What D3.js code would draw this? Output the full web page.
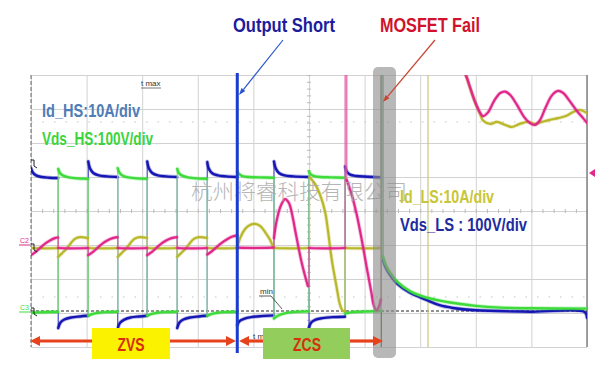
<!DOCTYPE html>
<html><head><meta charset="utf-8">
<script src="https://cdn.jsdelivr.net/npm/d3@7"></script>
<style>body{margin:0;background:#fff;} svg{display:block;}</style>
</head><body>
<script>
// ---------- DATA (time in 1/10 division, 0..100 across screen) ----------
const switchTimes = [0, 4.9, 10.3, 15.6, 20.9, 26.3, 31.7, 37.1, 43.7, 50.0, 56.5, 63.0];
const failTime = 63.0;
const cursorTime = 71.4;

// Vds_HS (green trace), volts, 100 V/div
const vdsHsSegments = [
  [[0,-6],[1.5,-4],[3.5,-3],[4.85,-3]],
  [[4.9,418],[5.2,406],[5.8,398],[6.8,393],[8.3,390],[10.25,389]],
  [[10.3,-14],[11,-9],[12.2,-5],[13.8,-3],[15.55,-2]],
  [[15.6,420],[15.9,407],[16.5,398],[17.5,393],[19,390],[20.85,389]],
  [[20.9,-14],[21.6,-9],[22.8,-5],[24.4,-3],[26.25,-2]],
  [[26.3,418],[26.6,406],[27.2,398],[28.2,393],[29.7,390],[31.65,389]],
  [[31.7,-14],[32.4,-9],[33.6,-5],[35.2,-3],[37.05,-2]],
  [[37.1,410],[37.4,403],[38,397],[39.2,394],[41,393],[43.65,392]],
  [[43.7,-22],[44.4,-14],[45.6,-7],[47.2,-3],[49.95,-1]],
  [[50.0,410],[50.3,402],[50.9,397],[52,394],[54,393],[56.45,392]],
  [[56.5,-8],[57.5,-4],[59.5,-2],[62.95,0]],
  [[63.0,720],[63.1,720]],
  [[63.3,160],[63.8,135],[64.6,112],[66,84],[68.2,58],[71,40],[75.4,25],[80,15],[84.4,10],[90,8],[100,7]]
];

// Vds_LS (blue trace), volts, 100 V/div
const vdsLsSegments = [
  [[0,420],[0.3,408],[0.9,399],[1.9,394],[3.3,392],[4.85,391]],
  [[4.9,-50],[5.3,-34],[6,-25],[7.2,-19],[8.8,-16],[10.25,-14]],
  [[10.3,440],[10.6,420],[11.2,406],[12.2,399],[13.7,396],[15.55,394]],
  [[15.6,-52],[16,-35],[16.7,-26],[17.9,-19],[19.5,-16],[20.85,-14]],
  [[20.9,440],[21.2,420],[21.8,406],[22.8,399],[24.3,396],[26.25,394]],
  [[26.3,-50],[26.7,-34],[27.4,-25],[28.6,-19],[30.2,-16],[31.65,-14]],
  [[31.7,438],[32,418],[32.6,405],[33.6,399],[35.1,396],[37.05,394]],
  [[37.1,-42],[37.5,-30],[38.3,-23],[39.6,-18],[41.5,-15],[43.65,-13]],
  [[43.7,440],[44,420],[44.6,406],[45.6,399],[47.2,396],[49.95,394]],
  [[50,-48],[50.4,-34],[51.1,-26],[52.4,-21],[54.3,-18],[56.45,-17]],
  [[56.5,425],[56.8,410],[57.4,401],[58.5,397],[60.5,395],[62.95,393]],
  [[63.0,720],[63.1,720]],
  [[63.3,150],[63.8,128],[64.6,106],[66,78],[68,55],[71.2,32],[73.5,17],[75.9,9],[80,2],[90,-2],[99.6,-3],[100,-20]]
];

// Id_HS (magenta trace), amps, 10 A/div
const idHsSegments = [
  [[0,-2.4],[0.8,-1.5],[1.7,-0.2],[2.6,1.1],[3.5,2.0],[4.3,2.6],[4.85,2.8]],
  [[4.9,-0.3],[7,-0.4],[10.25,-0.3]],
  [[10.3,-2.4],[11.1,-1.5],[12,-0.2],[12.9,1.1],[13.8,2.0],[14.7,2.6],[15.55,2.9]],
  [[15.6,-0.3],[18,-0.4],[20.85,-0.3]],
  [[20.9,-2.4],[21.7,-1.5],[22.6,-0.2],[23.5,1.1],[24.4,2.0],[25.3,2.6],[26.25,2.9]],
  [[26.3,-0.3],[29,-0.4],[31.65,-0.3]],
  [[31.7,-2.2],[32.5,-1.3],[33.4,0],[34.3,1.2],[35.2,2.2],[36.1,3.0],[37.05,3.4]],
  [[37.1,-0.2],[40,-0.3],[43.65,-0.2]],
  [[43.7,2.6],[44.2,7.9],[45.0,12.4],[45.7,14.1],[46.4,12.9],[47.1,8.5],[47.5,5.0],[48.7,-4.7],[49.8,-11.5]],
  [[50,-0.3],[53,-0.4],[56.45,-0.3]],
  [[56.5,60],[56.55,60]],
  [[56.8,19.7],[57.7,15.3],[58.6,9.4],[59.5,2],[60.4,-6.2],[61.2,-13.2],[61.7,-17.4],[62.2,-18.6],[62.6,-17.5],[62.9,-15.5]],
  [[63.0,60],[70,62],[76,58],[78.2,50.6],[79,46.8],[79.9,42.6],[80.8,39.4],[81.3,38.5],[82.2,39.6],[83.3,43.0],[84.4,45.3],[85.3,45.7],[86.2,44.7],[87.4,41.8],[88.7,38.2],[89.7,36.5],[90.6,35.9],[91.5,37.2],[92.6,41.2],[93.7,44.6],[94.8,45.9],[95.7,45.3],[96.9,42.9],[98.2,40],[99.3,37.9],[100,36.5]]
];

// Id_LS (olive trace), amps, 10 A/div
const idLsSegments = [
  [[0,-0.3],[2.5,-0.4],[4.85,-0.3]],
  [[4.9,-2.9],[5.6,-1.8],[6.5,-0.3],[7.2,1.2],[7.9,2.4],[8.8,2.9],[10.25,2.6]],
  [[10.3,-0.3],[13,-0.4],[15.55,-0.3]],
  [[15.6,-2.9],[16.3,-1.8],[17.2,-0.3],[17.9,1.2],[18.6,2.4],[19.5,2.9],[20.85,2.7]],
  [[20.9,-0.3],[23.5,-0.4],[26.25,-0.3]],
  [[26.3,-2.9],[27,-1.8],[27.9,-0.3],[28.6,1.2],[29.3,2.4],[30.2,2.9],[31.65,2.7]],
  [[31.7,-0.3],[34.5,-0.4],[37.05,-0.3]],
  [[37.1,-0.3],[37.6,2.6],[38.5,5.3],[39.4,6.5],[40.3,6.8],[41.2,6.2],[42.1,4.4],[43.0,2.1],[43.5,0.2],[43.65,-0.2]],
  [[43.7,-0.3],[47,-0.4],[49.95,-0.3]],
  [[50.1,20.5],[50.6,19.6],[51.1,18.5],[52.0,15.3],[52.9,10.3],[53.4,5.0],[54.1,-3.8],[54.9,-11.2],[55.6,-17.1],[56.1,-18.8],[56.45,-18.8]],
  [[56.5,-0.3],[60,-0.4],[62.95,-0.3]],
  [[63.0,60],[70,62],[76,58],[78.2,50.6],[79,46.6],[79.9,42.4],[80.8,39],[81.3,37.2],[82.6,36.2],[83.8,36.8],[85.3,35.9],[86.5,35.3],[87.9,36.2],[89.4,36.8],[90.6,36.2],[91.9,36.8],[93.3,37.4],[94.8,37.9],[96.2,38.5],[97.5,39.7],[98.7,40.3],[100,39.4]]
];

const labels = {
  outputShort: "Output Short",
  mosfetFail: "MOSFET Fail",
  idHs: "Id_HS:10A/div",
  vdsHs: "Vds_HS:100V/div",
  idLs: "Id_LS:10A/div",
  vdsLs: "Vds_LS : 100V/div",
  zvs: "ZVS",
  zcs: "ZCS",
  watermark: "杭州将睿科技有限公司"
};

// ---------- DRAWING ----------
const W = 599, H = 385;
const L = 31, R = 587, T = 75, B = 347;
const svg = d3.select("body").append("svg").attr("width", W).attr("height", H);
svg.append("rect").attr("width", W).attr("height", H).attr("fill", "#fff");

const xs = d3.scaleLinear().domain([0, 100]).range([L, R]);
const gy = d3.scaleLinear().domain([-4, 4]).range([B, T]);
const yV = d3.scaleLinear().domain([0, 100]).range([311, 277]);
const yI = d3.scaleLinear().domain([0, 10]).range([247, 213]);

svg.append("clipPath").attr("id", "clip").append("rect")
  .attr("x", L).attr("y", T).attr("width", R - L).attr("height", B - T);

// grid
const grid = svg.append("g");
grid.append("g").attr("transform", `translate(0,${B})`)
  .call(d3.axisBottom(xs).tickValues(d3.range(0, 101, 10)).tickSize(-(B - T)).tickFormat(""))
  .call(g => g.select(".domain").remove())
  .call(g => g.selectAll("line").attr("stroke", "#d2d2d2").attr("stroke-width", 1));
grid.append("g").attr("transform", `translate(${L},0)`)
  .call(d3.axisLeft(gy).tickValues(d3.range(-4, 5, 1)).tickSize(-(R - L)).tickFormat(""))
  .call(g => g.select(".domain").remove())
  .call(g => g.selectAll("line").attr("stroke", "#d2d2d2").attr("stroke-width", 1));
grid.append("g").attr("transform", `translate(0,${gy(0) + 2})`)
  .call(d3.axisTop(xs).tickValues(d3.range(0, 100.1, 2)).tickSize(4).tickFormat(""))
  .call(g => g.select(".domain").remove())
  .call(g => g.selectAll("line").attr("stroke", "#bbb"));
grid.append("g").attr("transform", `translate(${xs(50) - 2},0)`)
  .call(d3.axisRight(gy).tickValues(d3.range(-4, 4.01, 0.2)).tickSize(4).tickFormat(""))
  .call(g => g.select(".domain").remove())
  .call(g => g.selectAll("line").attr("stroke", "#bbb"));
[2.62, -2.53].forEach(v => {
  grid.append("line").attr("x1", L).attr("x2", R).attr("y1", gy(v)).attr("y2", gy(v))
    .attr("stroke", "#c4c4c4").attr("stroke-dasharray", "1.5,10");
});
grid.append("line").attr("x1", L).attr("x2", L).attr("y1", T).attr("y2", B)
  .attr("stroke", "#666").attr("stroke-dasharray", "4,2");
grid.append("line").attr("x1", R).attr("x2", R).attr("y1", T).attr("y2", B)
  .attr("stroke", "#8a8a8a").attr("stroke-width", 1.6);
grid.append("line").attr("x1", L).attr("x2", R).attr("y1", yV(0)).attr("y2", yV(0))
  .attr("stroke", "#222").attr("stroke-dasharray", "3,2").attr("stroke-width", 1);

const plot = svg.append("g").attr("clip-path", "url(#clip)");
plot.append("line").attr("x1", xs(cursorTime)).attr("x2", xs(cursorTime)).attr("y1", T).attr("y2", B)
  .attr("stroke", "#c9c77a").attr("stroke-width", 1.2);
plot.append("line").attr("x1", xs(failTime)).attr("x2", xs(failTime)).attr("y1", T).attr("y2", B)
  .attr("stroke", "#4d5a1c").attr("stroke-width", 1.2);

function drawTrace(segs, yScale, color, edgeColor, width) {
  const g = plot.append("g");
  const line = d3.line().x(d => xs(d[0])).y(d => yScale(d[1])).curve(d3.curveCatmullRom.alpha(0.5));
  for (let i = 1; i < segs.length; i++) {
    const a = segs[i - 1][segs[i - 1].length - 1], b = segs[i][0];
    g.append("line").attr("x1", xs(b[0])).attr("x2", xs(b[0]))
      .attr("y1", yScale(a[1])).attr("y2", yScale(b[1]))
      .attr("stroke", edgeColor).attr("stroke-width", 1.2);
  }
  segs.forEach(s => {
    g.append("path").attr("d", line(s)).attr("fill", "none")
      .attr("stroke", color).attr("stroke-width", width + 1.6).attr("opacity", 0.3)
      .attr("stroke-linejoin", "round").attr("stroke-linecap", "round");
    g.append("path").attr("d", line(s)).attr("fill", "none")
      .attr("stroke", color).attr("stroke-width", width)
      .attr("stroke-linejoin", "round").attr("stroke-linecap", "round");
  });
}
drawTrace(vdsLsSegments, yV, "#1616b4", "#4a4ac8", 2.4);
drawTrace(vdsHsSegments, yV, "#3ddc3a", "#86e27e", 2.4);
drawTrace(idLsSegments, yI, "#b9b82a", "#c8c850", 2.2);
drawTrace(idHsSegments, yI, "#e0288a", "#e45aa4", 2.2);

const small = svg.append("g").attr("font-family", "Liberation Sans, Arial, sans-serif").attr("font-size", 8).attr("fill", "#333");
small.append("text").attr("x", 141).attr("y", 86).text("t max");
small.append("line").attr("x1", 141).attr("x2", 161).attr("y1", 88).attr("y2", 88).attr("stroke", "#555").attr("stroke-width", 0.8);
small.append("text").attr("x", 260).attr("y", 294).text("min");
small.append("line").attr("x1", 259).attr("x2", 271).attr("y1", 296).attr("y2", 296).attr("stroke", "#333").attr("stroke-width", 0.8);
small.append("line").attr("x1", 271).attr("x2", 282).attr("y1", 296).attr("y2", 309).attr("stroke", "#333").attr("stroke-width", 0.8);
small.append("text").attr("x", 253).attr("y", 339).text("t min");
svg.append("text").attr("x", 20).attr("y", 243).attr("font-size", 7).attr("font-family", "Liberation Sans, sans-serif").attr("fill", "#e0288a").text("C2");
svg.append("line").attr("x1", 19).attr("x2", 30).attr("y1", 245).attr("y2", 245).attr("stroke", "#e0288a").attr("stroke-width", 1);
svg.append("text").attr("x", 20).attr("y", 310).attr("font-size", 7).attr("font-family", "Liberation Sans, sans-serif").attr("fill", "#3ddc3a").text("C3");
svg.append("line").attr("x1", 19).attr("x2", 30).attr("y1", 312).attr("y2", 312).attr("stroke", "#3ddc3a").attr("stroke-width", 1);
[160, 244, 308].forEach(y => {
  svg.append("path").attr("d", `M${L},${y} l3,0 l0,6 l3,2`).attr("fill", "none").attr("stroke", "#222").attr("stroke-width", 1);
});
svg.append("polygon").attr("points", "595,169 595,177 589,173").attr("fill", "#e0288a");

svg.append("text").attr("x", 191).attr("y", 199)
  .attr("font-family", "Noto Sans CJK SC, sans-serif").attr("font-weight", 300)
  .attr("font-size", 21).attr("fill", "#a9a9a9").attr("opacity", 0.85)
  .attr("textLength", 216).attr("lengthAdjust", "spacingAndGlyphs")
  .text(labels.watermark);

svg.append("rect").attr("x", 373).attr("y", 67).attr("width", 23).attr("height", 291).attr("rx", 5)
  .attr("fill", "#8c8c8c").attr("opacity", 0.62);

svg.append("line").attr("x1", xs(switchTimes[7])).attr("x2", xs(switchTimes[7])).attr("y1", 73).attr("y2", 353)
  .attr("stroke", "#1a3ccf").attr("stroke-width", 3);

function arrow(x1, y1, x2, y2, color, w, hl, hw) {
  const ang = Math.atan2(y2 - y1, x2 - x1);
  const bx = x2 - hl * Math.cos(ang), by = y2 - hl * Math.sin(ang);
  svg.append("line").attr("x1", x1).attr("y1", y1).attr("x2", bx).attr("y2", by)
    .attr("stroke", color).attr("stroke-width", w);
  const px = -Math.sin(ang) * hw / 2, py = Math.cos(ang) * hw / 2;
  svg.append("polygon").attr("points", `${x2},${y2} ${bx + px},${by + py} ${bx - px},${by - py}`).attr("fill", color);
}
arrow(283, 40, 239, 95, "#2a56cc", 1.2, 7, 5);
arrow(435, 40, 383, 102, "#c64432", 1.2, 7, 5);

const red = "#e6431d";
arrow(92, 341, 30, 341, red, 3.2, 10, 10);
arrow(170, 341, 236, 341, red, 3.2, 10, 10);
arrow(263, 341, 239, 341, red, 3.2, 10, 10);
arrow(350, 341, 383, 341, red, 3.2, 10, 10);
svg.append("rect").attr("x", 92).attr("y", 328).attr("width", 78).attr("height", 31).attr("fill", "#fbf200");
svg.append("rect").attr("x", 263).attr("y", 328).attr("width", 87).attr("height", 31).attr("fill", "#93cd5c");

const boldFont = "Liberation Sans Narrow, Liberation Sans, Arial, sans-serif";
function label(txt, x, y, size, len, color, anchor) {
  svg.append("text").attr("x", x).attr("y", y).attr("font-family", boldFont).attr("font-weight", "bold")
    .attr("font-size", size).attr("fill", color).attr("text-anchor", anchor || "start")
    .attr("textLength", len).attr("lengthAdjust", "spacingAndGlyphs").text(txt);
}
label(labels.zvs, 131, 351, 18, 27, "#d6300c", "middle");
label(labels.zcs, 307, 351, 18, 28, "#d6300c", "middle");
label(labels.outputShort, 233, 32, 21, 102, "#1c1c9c");
label(labels.mosfetFail, 380, 32, 21, 100, "#d0122a");
label(labels.idHs, 42, 117, 19, 98, "#4f7db6");
label(labels.vdsHs, 42, 145, 19, 111, "#3cd43c");
label(labels.idLs, 400, 203, 18, 94, "#c8c636");
label(labels.vdsLs, 400, 231, 18, 127, "#1e2ca0");
</script>
</body></html>
